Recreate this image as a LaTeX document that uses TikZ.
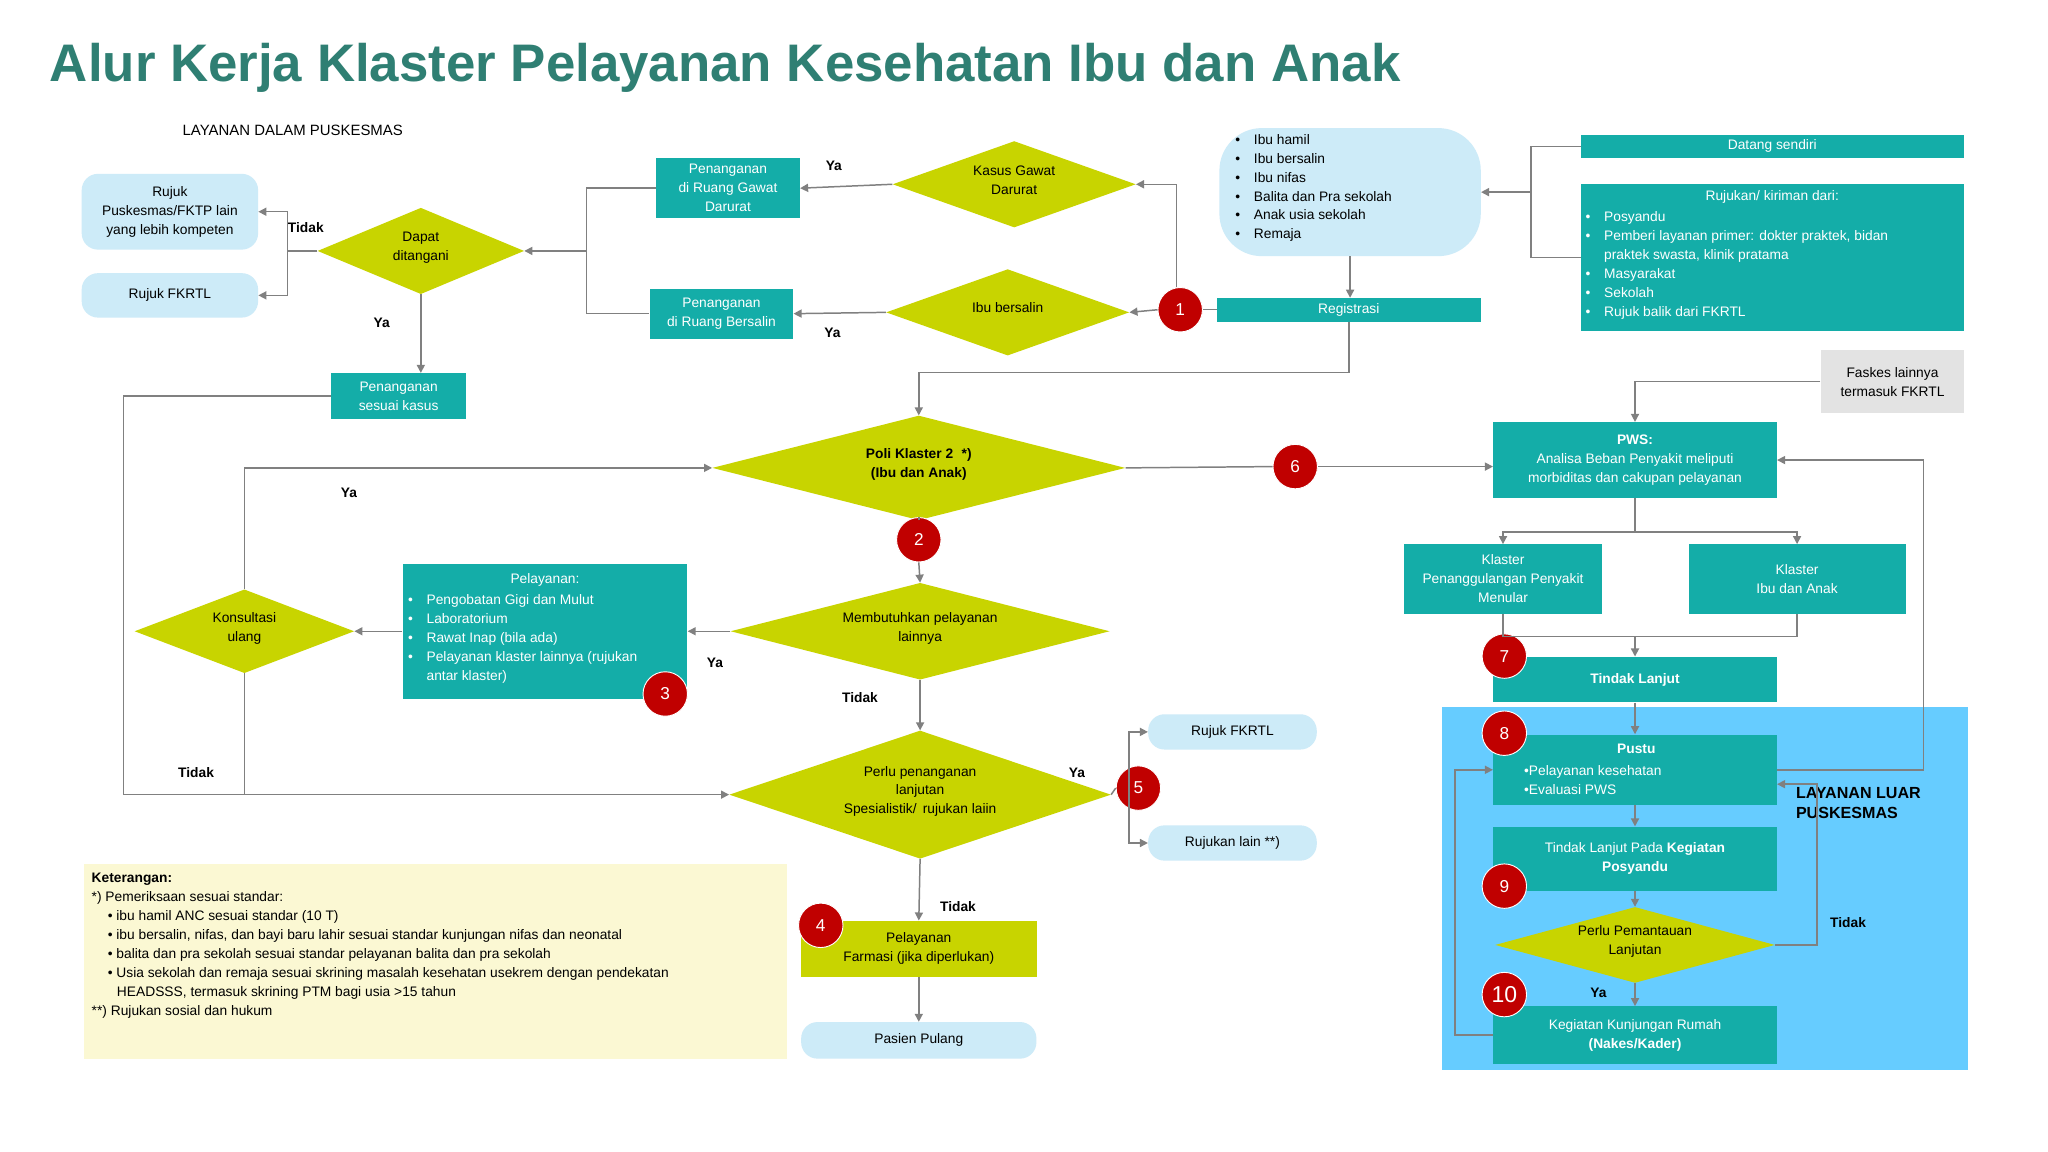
\documentclass[tikz,border=0pt]{standalone}
\usepackage{fontspec}
\setmainfont{Liberation Sans}
\usetikzlibrary{shapes.geometric,arrows.meta,calc}
\definecolor{tealb}{HTML}{14ADA8}
\definecolor{lblue}{HTML}{CDEBF8}
\definecolor{ygr}{HTML}{C8D400}
\definecolor{redc}{HTML}{C00000}
\definecolor{ttl}{HTML}{2F7F73}
\definecolor{gline}{HTML}{808080}
\definecolor{region}{HTML}{66CCFF}
\definecolor{ketc}{HTML}{FBF8D3}
\definecolor{greyb}{HTML}{E3E3E3}
\newcommand\fsn{\fontsize{12}{16.5}\selectfont}
\newcommand\dtx[1]{\smash{\makebox[0pt]{\begin{tabular}{@{}c@{}}#1\end{tabular}}}}
\def\uu{0.04cm}
\tikzset{
 tbox/.style 2 args={fill=tealb,text=white,font=\fsn,align=center,inner sep=1pt,minimum width=#1*\uu,minimum height=#2*\uu},
 lbox/.style 2 args={fill=lblue,font=\fsn,align=center,inner sep=1pt,rounded corners=0.5cm,minimum width=#1*\uu,minimum height=#2*\uu},
 dia/.style 2 args={diamond,fill=ygr,font=\fsn,inner sep=0pt,minimum width=#1*\uu,minimum height=#2*\uu},
 num/.style={circle,fill=redc,draw=white,line width=0.8pt,text=white,font=\fontsize{15}{15}\selectfont,minimum size=34*\uu,inner sep=0pt},
 ln/.style={draw=gline,line width=1.3pt},
 arr/.style={ln,-{Triangle[length=7pt,width=7pt]}},
 lab/.style={font=\fsn\bfseries},
 wt/.style={text=white,font=\fsn,inner sep=0pt}
}
\begin{document}
\begin{tikzpicture}[x=0.04cm,y=-0.04cm]
\useasboundingbox (0,0) rectangle (1567,881);
\fill[white] (0,0) rectangle (1567,881);
% regions
\fill[region] (1103,541) rectangle (1506,819);
\fill[ketc] (64,661) rectangle (602,810);
% title
\node[anchor=west,text=ttl,font=\fontsize{46}{48}\selectfont\bfseries,inner sep=0pt] (title) at (38,52) {Alur Kerja Klaster Pelayanan Kesehatan Ibu dan Anak};
\node[font=\fontsize{13}{15}\selectfont,inner sep=0pt] (ldp) at (224,100) {LAYANAN DALAM PUSKESMAS};
% left top
\node[lbox={135}{58}] (rp) at (130,162) {Rujuk\\Puskesmas/FKTP lain\\yang lebih kompeten};
\node[lbox={135}{34}] (rf) at (130,226) {Rujuk FKRTL};
\node[dia={158}{66}] (dapat) at (322,192) {\dtx{Dapat\\ditangani}};
\node[tbox={110}{46}] (rgd) at (557,144) {Penanganan\\di Ruang Gawat\\Darurat};
\node[dia={186}{66}] (kgd) at (776,141) {\dtx{Kasus Gawat\\Darurat}};
\node[tbox={110}{38}] (rb) at (552,240) {Penanganan\\di Ruang Bersalin};
\node[dia={186}{66}] (ib) at (771,239) {\dtx{Ibu bersalin}};
\node[tbox={103}{35}] (psk) at (305,303) {Penanganan\\sesuai kasus};
% sasaran
\node[lbox={200}{98},rounded corners=1.3cm] (sas) at (1033,147) {};
\node[font=\fsn,anchor=north west,inner sep=0pt] (sast) at (945,100) {\begin{tabular}{@{}l@{\hspace{12pt}}l@{}}•&Ibu hamil\\•&Ibu bersalin\\•&Ibu nifas\\•&Balita dan Pra sekolah\\•&Anak usia sekolah\\•&Remaja\end{tabular}};
\node[tbox={293}{18}] (ds) at (1356,112) {Datang sendiri};
\node[tbox={293}{112}] (rk) at (1356,197) {};
\node[wt] (rkh) at (1356,151) {Rujukan/ kiriman dari:};
\node[wt,anchor=north west] (rkt) at (1213,159) {\begin{tabular}{@{}l@{\hspace{12pt}}l@{}}•&Posyandu\\•&Pemberi layanan primer: dokter praktek, bidan\\&praktek swasta, klinik pratama\\•&Masyarakat\\•&Sekolah\\•&Rujuk balik dari FKRTL\end{tabular}};
\node[tbox={202}{18}] (reg) at (1032,237) {Registrasi};
\node[num] (c1) at (903,237) {1};
% middle
\node[dia={316}{80}] (poli) at (703,358) {\dtx{\bfseries Poli Klaster 2\,\, *)\\\bfseries (Ibu dan Anak)}};
\node[num] (c2) at (703,413) {2};
\node[dia={290}{74}] (mem) at (704,483) {\dtx{Membutuhkan pelayanan\\lainnya}};
\node[tbox={218}{103}] (pel) at (417,483) {};
\node[wt] (pelh) at (417,444) {Pelayanan:};
\node[wt,anchor=north west] (pelt) at (312,452) {\begin{tabular}{@{}l@{\hspace{12pt}}l@{}}•&Pengobatan Gigi dan Mulut\\•&Laboratorium\\•&Rawat Inap (bila ada)\\•&Pelayanan klaster lainnya (rujukan\\&antar klaster)\end{tabular}};
\node[num] (c3) at (509,531) {3};
\node[dia={168}{64}] (kons) at (187,483) {\dtx{Konsultasi\\ulang}};
\node[dia={292}{98}] (perlu) at (704,608) {\dtx{Perlu penanganan\\lanjutan\\Spesialistik/\, rujukan laiin}};
\node[num] (c5) at (871,603) {5};
\node[lbox={129}{27}] (rf2) at (943,560) {Rujuk FKRTL};
\node[lbox={129}{27}] (rl) at (943,645) {Rujukan lain **)};
\node[fill=ygr,font=\fsn,align=center,minimum width=181*\uu,minimum height=43*\uu,inner sep=1pt] (far) at (703,726) {Pelayanan\\Farmasi (jika diperlukan)};
\node[num] (c4) at (628,708) {4};
\node[lbox={180}{28}] (pp) at (703,796) {Pasien Pulang};
% keterangan
\node[anchor=north west,font=\fsn,inner sep=0pt,align=left] (ket) at (70,668) {\textbf{Keterangan:}\\
*) Pemeriksaan sesuai standar:\\
\hspace{14pt}• ibu hamil ANC sesuai standar (10 T)\\
\hspace{14pt}• ibu bersalin, nifas, dan bayi baru lahir sesuai standar kunjungan nifas dan neonatal\\
\hspace{14pt}• balita dan pra sekolah sesuai standar pelayanan balita dan pra sekolah\\
\hspace{14pt}• Usia sekolah dan remaja sesuai skrining masalah kesehatan usekrem dengan pendekatan\\
\hspace{22pt}HEADSSS, termasuk skrining PTM bagi usia >15 tahun\\
**) Rujukan sosial dan hukum};
% right
\node[fill=greyb,font=\fsn,align=center,minimum width=110*\uu,minimum height=48*\uu,inner sep=1pt] (fask) at (1448,292) {Faskes lainnya\\termasuk FKRTL};
\node[tbox={217}{58}] (pws) at (1251,352) {\textbf{PWS:}\\Analisa Beban Penyakit meliputi\\morbiditas dan cakupan pelayanan};
\node[num] (c6) at (991,357) {6};
\node[tbox={152}{53}] (kpm) at (1150,443) {Klaster\\Penanggulangan Penyakit\\Menular};
\node[tbox={166}{53}] (kia) at (1375,443) {Klaster\\Ibu dan Anak};
\node[tbox={217}{35}] (tl) at (1251,520) {\textbf{Tindak Lanjut}};
\node[num] (c7) at (1151,502) {7};
\node[tbox={217}{54}] (pustu) at (1251,589) {};
\node[wt] (pustuh) at (1252,573) {\textbf{Pustu}};
\node[wt,anchor=west,align=left] (pustut) at (1166,597) {•Pelayanan kesehatan\\•Evaluasi PWS};
\node[num] (c8) at (1151,561) {8};
\node[tbox={217}{49}] (pos) at (1251,657) {Tindak Lanjut Pada \textbf{Kegiatan}\\\textbf{Posyandu}};
\node[num] (c9) at (1151,678) {9};
\node[dia={214}{58}] (ppl) at (1251,723) {\dtx{Perlu Pemantauan\\Lanjutan}};
\node[tbox={217}{44}] (kkr) at (1251,792) {Kegiatan Kunjungan Rumah\\\textbf{(Nakes/Kader)}};
\node[num,font=\fontsize{20}{20}\selectfont] (c10) at (1151,761) {10};
\node[anchor=north west,font=\fontsize{14}{18}\selectfont\bfseries,align=left,inner sep=0pt] (llp) at (1374,602) {LAYANAN LUAR\\PUSKESMAS};
% labels
\node[lab] (l1) at (638,127) {Ya};
\node[lab] (l2) at (637,255) {Ya};
\node[lab] (l3) at (234,174) {Tidak};
\node[lab] (l4) at (292,247) {Ya};
\node[lab] (l5) at (267,377) {Ya};
\node[lab] (l6) at (547,507) {Ya};
\node[lab] (l7) at (658,534) {Tidak};
\node[lab] (l8) at (150,591) {Tidak};
\node[lab] (l9) at (824,591) {Ya};
\node[lab] (l10) at (733,694) {Tidak};
\node[lab] (l11) at (1414,706) {Tidak};
\node[lab] (l12) at (1223,760) {Ya};
% connectors
\draw[arr] (kgd.west) -- (rgd.east);
\draw[arr] (ib.west) -- (rb.east);
\draw[ln] (rgd.west) -- ++(-53,0) |- (rb.west);
\coordinate (j1) at (449,192);
\draw[arr] (j1) -- (dapat.east);
\draw[ln] (dapat.west) -- ++(-23,0) coordinate (j2);
\draw[arr] (j2) |- (rp.east);
\draw[arr] (j2) |- (rf.east);
\draw[arr] (dapat.south) -- (psk.north -| dapat.south);
\draw[ln] (reg.west) -- (c1.east);
\draw[arr] (c1.west) -- (ib.east);
\draw[arr] (c1.north -| 900,0) -- (900,141) -- (kgd.east);
\draw[arr] (sas.south) -- (reg.north -| sas.south);
\draw[ln] (ds.west) -- ++(-38,0) coordinate (j3) |- (rk.west);
\draw[arr] (j3 |- sas.east) -- (sas.east);
\draw[arr] (reg.south) -- ++(0,39) -| (poli.north);
\draw[arr] (psk.west) -- ++(-159,0) |- (perlu.west);
\draw[ln] (poli.east) -- (c6.west);
\draw[arr] (c6.east) -- (c6.east -| pws.west);
\draw[arr] (fask.west) -| (pws.north);
\draw[ln] (pws.south) -- ++(0,26) coordinate (j4);
\draw[arr] (j4) -| (kpm.north);
\draw[arr] (j4) -| (kia.north);
\coordinate (j5) at (1251,487);
\draw[ln] (kpm.south) |- (j5) -| (kia.south);
\draw[arr] (j5) -- (tl.north);
\draw[ln] (poli.south) -- (c2.north);
\draw[arr] (c2.south) -- (mem.north);
\draw[arr] (mem.west) -- (pel.east);
\draw[arr] (pel.west) -- (kons.east);
\draw[arr] (kons.north) |- (poli.west);
\draw[ln] (kons.south) -- (kons.south |- perlu.west);
\draw[arr] (mem.south) -- (perlu.north);
\draw[ln] (perlu.east) -- (c5.west);
\coordinate (j6) at (864,603);
\draw[arr] (j6) |- (rf2.west);
\draw[arr] (j6) |- (rl.west);
\draw[arr] (perlu.south) -- (far.north);
\draw[arr] (far.south) -- (pp.north);
\draw[arr] (tl.south) -- (pustu.north);
\draw[arr] (pustu.south) -- (pos.north);
\draw[arr] (pos.south) -- (ppl.north);
\draw[arr] (ppl.south) -- (kkr.north);
\draw[arr] (ppl.east) -- ++(32,0) |- ([yshift=-0.44cm]pustu.east);
\draw[arr] (pustu.east) -- ++(112,0) |- (pws.east);
\draw[arr] (kkr.west) -- ++(-29,0) |- (pustu.west);
\end{tikzpicture}
\end{document}
